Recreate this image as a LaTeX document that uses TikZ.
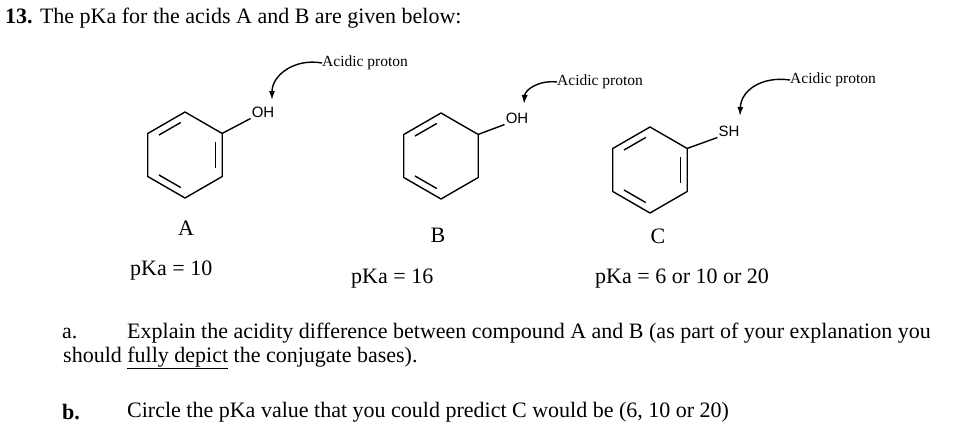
\documentclass[tikz,border=0pt]{standalone}
\usepackage{fontspec}
\setmainfont{Liberation Serif}
\newfontfamily\chemsf{Liberation Sans}
\usetikzlibrary{arrows.meta,calc}
\begin{document}
\begin{tikzpicture}[x=1pt,y=-1pt,
  body/.style={font=\fontsize{22}{25}\selectfont,inner sep=0pt,anchor=west},
  small/.style={font=\fontsize{15.5}{18}\selectfont,inner sep=0pt,anchor=west},
  grp/.style={font=\chemsf\fontsize{15}{17}\selectfont,inner sep=1pt},
  bond/.style={line width=1.4pt},
  curv/.style={line width=1.4pt,-{Latex[length=9pt,width=6pt]}}]
\useasboundingbox (0,0) rectangle (953,428);
% title
\node[body] (title) at (5,18) {\textbf{13.} The pKa for the acids A and B are given below:};
% rings
\foreach \cx/\cy/\dbl in {185/155/{-150/-90,-30/30,90/150},441/156/{-150/-90,90/150},650/170/{-150/-90,-30/30,90/150}}{
  \begin{scope}[shift={(\cx,\cy)}]
  \draw[bond,line join=round] (-90:43)--(-30:43)--(30:43)--(90:43)--(150:43)--(210:43)--cycle;
  \foreach \a/\b in \dbl {\draw[bond] ($(\a:35)!0.14!(\b:35)$)--($(\a:35)!0.86!(\b:35)$);}
  \end{scope}}
% substituents
\node[grp] (ohA) at (263,112) {OH};
\draw[bond] (222,133.5) -- (ohA.south west);
\node[grp] (ohB) at (517,118) {OH};
\draw[bond] (478,134.5) -- (ohB.south west);
\node[grp] (shC) at (729,131) {SH};
\draw[bond] (687,148.5) -- (shC.south west);
% acidic proton labels and arrows
\node[small] (apA) at (322,63) {Acidic proton};
\coordinate (tA) at (272,100);
\draw[curv] (apA.west) .. controls (295,58) and (272,75) .. (tA);
\node[small] (apB) at (557,82) {Acidic proton};
\coordinate (tB) at (524,104);
\draw[curv] (apB.west) .. controls (538,80) and (525,90) .. (tB);
\node[small] (apC) at (790,80) {Acidic proton};
\coordinate (tC) at (740,116);
\draw[curv] (apC.west) .. controls (762,76) and (741,90) .. (tC);
% labels
\node[body,anchor=center] (lA) at (186,228) {A};
\node[body,anchor=center] (lB) at (438,235) {B};
\node[body,anchor=center] (lC) at (658,236) {C};
\node[body] (pA) at (130,271) {pKa = 10};
\node[body] (pB) at (351,279) {pKa = 16};
\node[body] (pC) at (595,279) {pKa = 6 or 10 or 20};
% questions
\node[body] (qa) at (62,333) {a.};
\node[body] (qa1) at (127,333) {Explain the acidity difference between compound A and B (as part of your explanation you};
\node[body] (qa2) at (63,358) {should \underline{fully depict} the conjugate bases).};
\node[body] (qb) at (62,412) {\textbf{b.}};
\node[body] (qb1) at (127,412) {Circle the pKa value that you could predict C would be (6, 10 or 20)};
\end{tikzpicture}
\end{document}
